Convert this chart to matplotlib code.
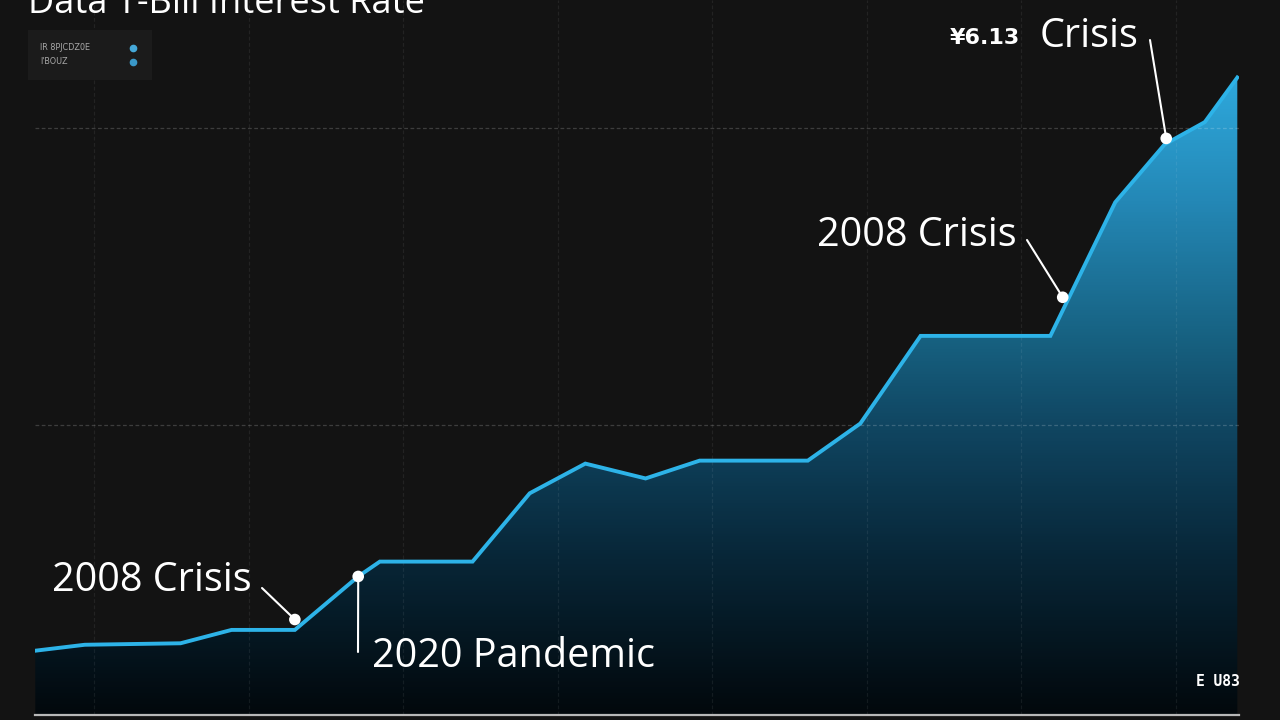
import numpy as np
import matplotlib
matplotlib.use("Agg")
import matplotlib.pyplot as plt
from matplotlib.colors import LinearSegmentedColormap
from matplotlib.patches import Rectangle

# ---------------- data ----------------
period = [-0.38, -0.06, 0.56, 0.89, 1.30, 1.71, 1.85, 2.45, 2.82, 3.18, 3.57,
          3.92, 4.31, 4.62, 4.96, 5.35, 6.19, 6.61, 6.93, 7.19, 7.40]
rate = [0.48, 0.52, 0.53, 0.62, 0.62, 0.98, 1.08, 1.08, 1.54, 1.74, 1.64,
        1.76, 1.76, 1.76, 2.01, 2.60, 2.60, 3.50, 3.89, 4.04, 4.34]

ann_labels = ["2008 Crisis", "2020 Pandemic", "2008 Crisis", "Crisis"]
ann_x = [1.30, 1.71, 6.27, 6.94]
ann_y = [0.69, 0.98, 2.86, 3.93]

title_text = "Data T-Bill Interest Rate"
legend_labels = ["IR 8PJCDZ0E", "I'BOUZ"]
legend_colors = ["#45a8d8", "#3a98c8"]
corner_text = "E U83"
value_tag = "¥6.13"

# ---------------- style ----------------
BG = "#131313"
LINE = "#2db3e8"
FONT = "Open Sans"

W, H = 1280, 720
fig = plt.figure(figsize=(12.8, 7.2), dpi=100, facecolor=BG)
ax = fig.add_axes([35 / W, 5 / H, (1239 - 35) / W, 715 / H])
ax.set_facecolor(BG)
xlim = (-0.382, 7.411)
ylim = (0.047, 4.862)
ax.set_xlim(*xlim)
ax.set_ylim(*ylim)

# grid
ax.set_xticks(range(0, 8))
ax.set_yticks([2, 4])
ax.tick_params(length=0, labelbottom=False, labelleft=False)
ax.grid(axis="x", color="white", alpha=0.07, lw=0.9, ls=(0, (3, 2)), zorder=3)
ax.grid(axis="y", color="white", alpha=0.18, lw=0.9, ls=(0, (3, 2)), zorder=3)
for s in ["top", "right", "left"]:
    ax.spines[s].set_visible(False)
ax.spines["bottom"].set_color("#b8b8b8")
ax.spines["bottom"].set_linewidth(1.6)
ax.spines["bottom"].set_zorder(6)

# gradient fill under the curve
def pix2v(py):
    return (722 - py) / 148.5
stops = [(550, "#08283a"), (425, "#104662"),
         (336, "#176282"), (200, "#2488b6"), (78, "#2ea8dc")]
span = ylim[1] - ylim[0]
cm_list = [(0.0, "#02080c")]
cm_list += [((pix2v(p) - ylim[0]) / span, c) for p, c in stops]
cm_list += [(1.0, "#33b2e6")]
cm = LinearSegmentedColormap.from_list("g", cm_list)
grad = np.linspace(0, 1, 512).reshape(-1, 1)
poly = ax.fill_between(period, rate, ylim[0], color="none", lw=0)
img = ax.imshow(grad, cmap=cm, origin="lower", aspect="auto",
                extent=[xlim[0], xlim[1], ylim[0], ylim[1]], zorder=1)
img.set_clip_path(poly.get_paths()[0], transform=ax.transData)

ax.plot(period, rate, color=LINE, lw=2.8, solid_joinstyle="miter", zorder=4)

# annotations
ax.scatter(ann_x, ann_y, s=70, color="white", zorder=7, edgecolors="none")

def fp(x, y_top):
    return (x, H - y_top)

line_starts = [fp(262, 588), fp(358, 652), fp(1027, 240), fp(1150, 40)]
text_pos = [fp(52, 581), fp(372, 657), fp(817, 236), fp(1040, 37)]
for lab, xd, yd, ls, tp in zip(ann_labels, ann_x, ann_y, line_starts, text_pos):
    ax.annotate("", xy=(xd, yd), xycoords="data", xytext=ls,
                textcoords="figure pixels",
                arrowprops=dict(arrowstyle="-", color="white", lw=1.5,
                                shrinkA=0, shrinkB=3), zorder=6)
    fig.text(tp[0] / W, tp[1] / H, lab, color="white", fontsize=28.5,
             family=FONT, ha="left", va="center")

fig.text(950 / W, (H - 38) / H, value_tag, color="white", fontsize=16,
         family="DejaVu Sans", weight="bold", ha="left", va="center")

# title (top cut by the frame edge, as in the reference)
fig.text(28 / W, (H - 13) / H, title_text, color="white", fontsize=26,
         family=FONT, weight="medium", ha="left", va="baseline")

# legend (drawn manually: text left, marker right)
fig.patches.append(Rectangle((28 / W, (H - 80) / H), 124 / W, 50 / H,
                             transform=fig.transFigure, facecolor="#1b1b1b",
                             edgecolor="none", zorder=1))
for i, (lab, col) in enumerate(zip(legend_labels, legend_colors)):
    yy = (H - 48 - 14 * i) / H
    fig.text(40 / W, yy, lab, color="#a8a8a8", fontsize=6.5,
             family="DejaVu Sans", stretch="condensed", ha="left", va="center")
    fig.add_artist(plt.Line2D([133 / W], [yy], marker="o", ms=4.5, color=col,
                              transform=fig.transFigure, ls="none"))

fig.text(1240 / W, (H - 682) / H, corner_text, color="white", fontsize=10.5,
         family="DejaVu Sans Mono", weight="bold", ha="right", va="center")

fig.savefig("out.png", dpi=100, facecolor=BG)
